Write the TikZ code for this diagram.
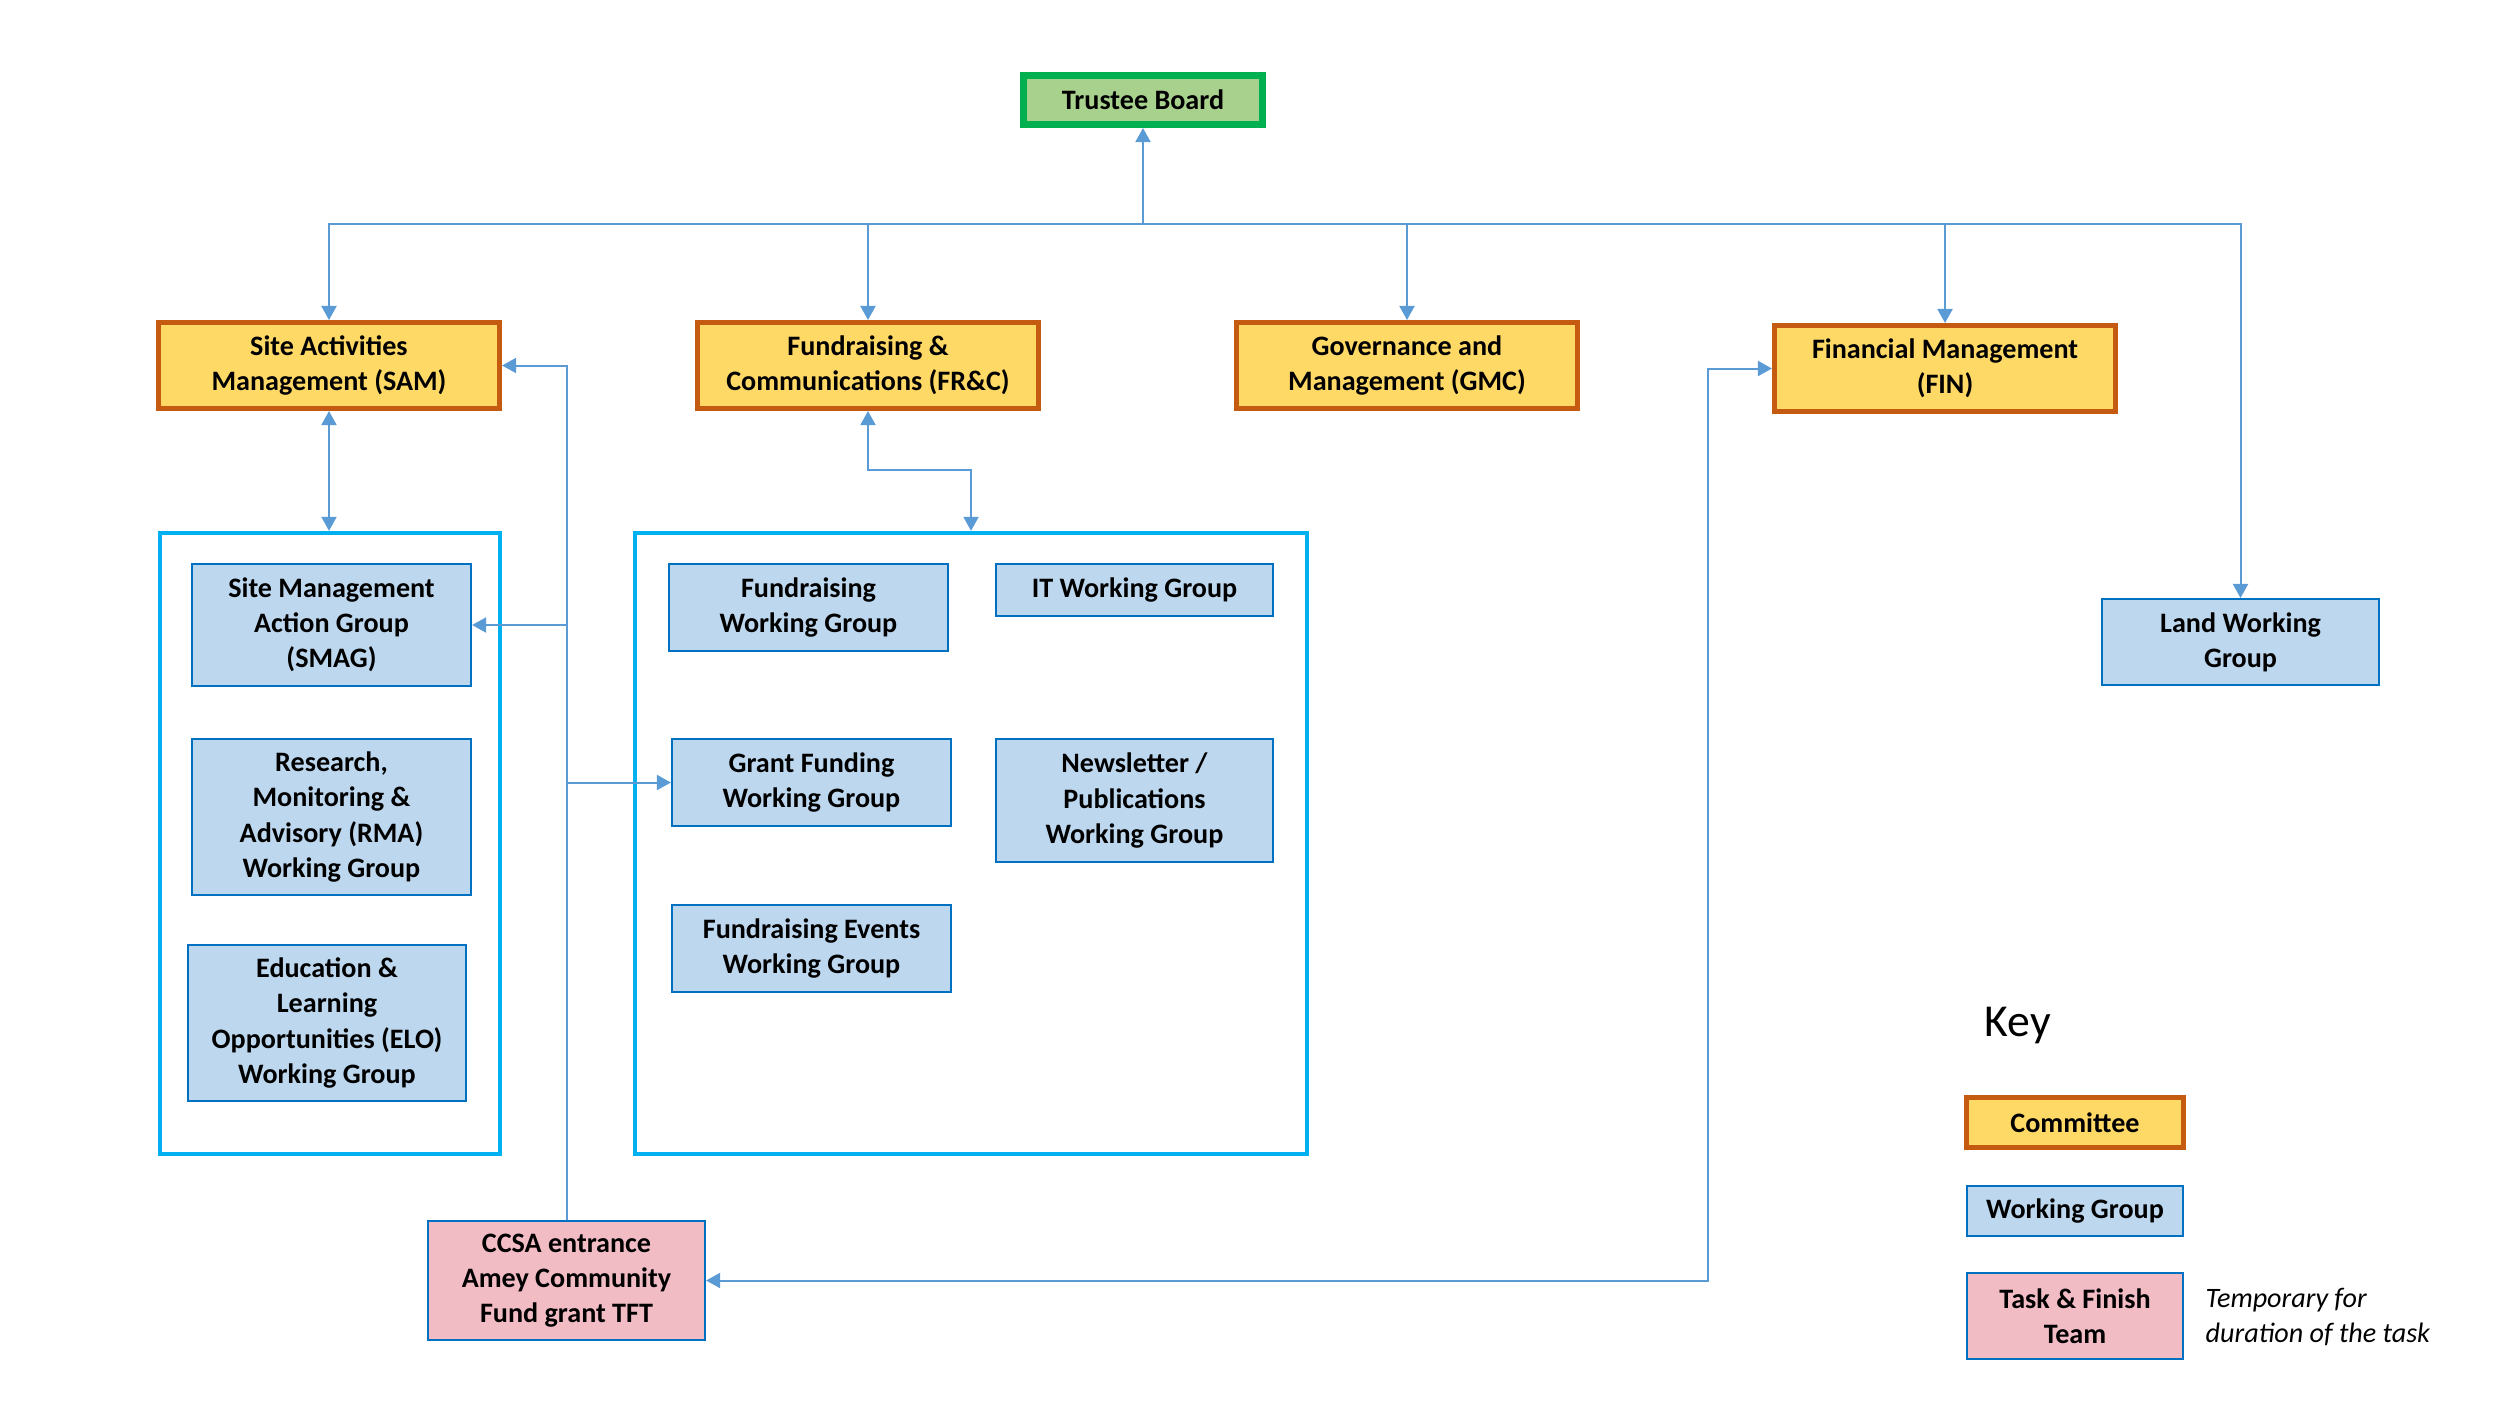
\documentclass[tikz,border=0pt]{standalone}
\usepackage{fontspec}
\setmainfont{Carlito}
\usetikzlibrary{arrows.meta}
\definecolor{connc}{HTML}{5B9BD5}
\definecolor{comfill}{HTML}{FFD966}
\definecolor{comdraw}{HTML}{C55A11}
\definecolor{tbfill}{HTML}{A9D18E}
\definecolor{tbdraw}{HTML}{00B050}
\definecolor{wgfill}{HTML}{BDD7EE}
\definecolor{wgdraw}{HTML}{0070C0}
\definecolor{tftfill}{HTML}{F2BCC5}
\definecolor{contdraw}{HTML}{00B0F0}
\tikzset{
  base/.style={rectangle, align=center, inner sep=1pt, font=\fontsize{8}{10}\selectfont\bfseries},
  trustee/.style={base, fill=tbfill, draw=tbdraw, line width=0.07cm, minimum width=2.39cm, minimum height=0.49cm},
  committee/.style={base, fill=comfill, draw=comdraw, line width=0.05cm, minimum width=3.41cm, minimum height=0.86cm},
  wg/.style={base, fill=wgfill, draw=wgdraw, line width=0.02cm},
  tft/.style={base, fill=tftfill, draw=wgdraw, line width=0.02cm},
  container/.style={rectangle, draw=contdraw, line width=0.04cm, minimum height=6.21cm, inner sep=0pt},
  conn/.style={draw=connc, line width=0.02cm, arrows={-}},
  tip/.tip={Triangle[length=0.14cm, width=0.15cm]},
}
\begin{document}
\begin{tikzpicture}[x=0.01cm, y=-0.01cm, >={Triangle[length=0.14cm, width=0.15cm]}]
\useasboundingbox (0,0) rectangle (2500,1405);

% Containers
\node[container, minimum width=3.40cm] (left) at (330,843.5) {};
\node[container, minimum width=6.72cm] (mid) at (971,843.5) {};

% Trustee board
\node[trustee] (tb) at (1143,100) {Trustee Board};

% Committees
\node[committee] (sam) at (329,365.5) {Site Activities\\Management (SAM)};
\node[committee] (frc) at (868,365.5) {Fundraising \&\\Communications (FR\&C)};
\node[committee] (gmc) at (1407,365.5) {Governance and\\Management (GMC)};
\node[committee] (fin) at (1945,368.5) {Financial Management\\(FIN)};

% Working groups
\node[wg, minimum width=2.79cm, minimum height=1.22cm] (smag) at (331.5,625) {Site Management\\Action Group\\(SMAG)};
\node[wg, minimum width=2.79cm, minimum height=1.56cm] (rma) at (331.5,817) {Research,\\Monitoring \&\\Advisory (RMA)\\Working Group};
\node[wg, minimum width=2.78cm, minimum height=1.56cm] (elo) at (327,1023) {Education \&\\Learning\\Opportunities (ELO)\\Working Group};

\node[wg, minimum width=2.79cm, minimum height=0.87cm] (fwg) at (808.5,607.5) {Fundraising\\Working Group};
\node[wg, minimum width=2.77cm, minimum height=0.52cm] (itwg) at (1134.5,590) {IT Working Group};
\node[wg, minimum width=2.79cm, minimum height=0.87cm] (gf) at (811.5,782.5) {Grant Funding\\Working Group};
\node[wg, minimum width=2.77cm, minimum height=1.23cm] (nl) at (1134.5,800.5) {Newsletter /\\Publications\\Working Group};
\node[wg, minimum width=2.79cm, minimum height=0.87cm] (fe) at (811.5,948.5) {Fundraising Events\\Working Group};

\node[wg, minimum width=2.77cm, minimum height=0.86cm] (land) at (2240.5,642) {Land Working\\Group};

\node[tft, minimum width=2.77cm, minimum height=1.19cm] (tftn) at (566.5,1280.5) {CCSA entrance\\Amey Community\\Fund grant TFT};

% Key
\node[font=\fontsize{13}{15}\selectfont] (keyt) at (2018,1025) {Key};
\node[committee, minimum width=2.17cm, minimum height=0.50cm] (kcom) at (2075,1122.5) {Committee};
\node[wg, minimum width=2.16cm, minimum height=0.50cm] (kwg) at (2075,1211) {Working Group};
\node[tft, minimum width=2.16cm, minimum height=0.86cm] (ktft) at (2075,1316) {Task \& Finish\\Team};
\node[anchor=west, align=left, inner sep=0pt, font=\fontsize{8}{10}\selectfont\itshape] (ktxt) at (2205,1317) {Temporary for\\duration of the task};

% Connectors: Trustee bus
\coordinate (bus) at (1143,223.5);
\draw[conn,->] (tb.south |- bus) -- (tb.south);
\draw[conn,->] (tb.south |- bus) -| (sam.north);
\draw[conn,->] (tb.south |- bus) -| (frc.north);
\draw[conn,->] (tb.south |- bus) -| (gmc.north);
\draw[conn,->] (tb.south |- bus) -| (fin.north);
\draw[conn,->] (tb.south |- bus) -| (land.north);

% SAM <-> left container
\draw[conn,<->] (sam.south) -- (sam.south |- left.north);

% FR&C <-> middle container
\coordinate (frcbend) at (868,470);
\draw[conn,<->] (frc.south) -- (frcbend) -| (mid.north);

% TFT connectors
\draw[conn,->] (tftn.north) -- (tftn.north |- sam.east) -- (sam.east);
\draw[conn,->] (tftn.north |- smag.east) -- (smag.east);
\draw[conn,->] (tftn.north |- gf.west) -- (gf.west);

% FIN <-> TFT
\coordinate (finbend) at (1708,1280.5);
\draw[conn,<->] (tftn.east) -- (finbend) |- (fin.west);

\end{tikzpicture}
\end{document}
